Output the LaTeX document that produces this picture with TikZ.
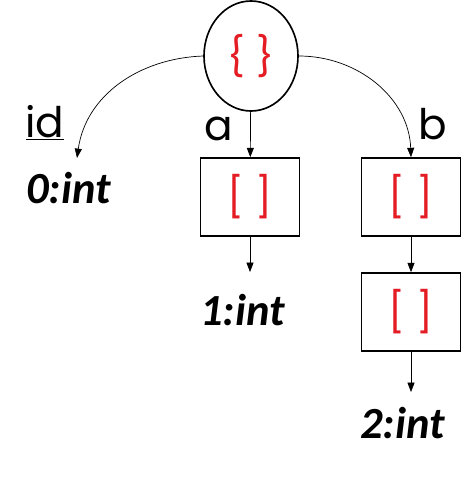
\documentclass[tikz,border=0pt]{standalone}
\usepackage{fontspec}
\usepackage{tikz}
\usetikzlibrary{arrows.meta, shapes.geometric, positioning}
\newfontfamily\labelfont{Poppins}
\newfontfamily\intfont{Carlito}
\definecolor{brkred}{RGB}{228, 28, 36}

\begin{document}
\begin{tikzpicture}[x=0.03cm, y=-0.03cm,
                    every node/.style={inner sep=0pt},
                    cell/.style={draw, line width=1.4pt, minimum width=2.97cm,
                                 minimum height=2.34cm, text=brkred,
                                 font=\labelfont\fontsize{34}{40}\selectfont},
                    lbl/.style={anchor=base, font=\labelfont\fontsize{36}{40}\selectfont},
                    val/.style={anchor=base west, font=\intfont\fontsize{38}{44}\selectfont\bfseries\itshape},
                    arr/.style={-{Triangle[length=8pt, width=6pt]}, line width=0.6pt}]
  \useasboundingbox (0,0) rectangle (474,477);

  \node[ellipse, draw, line width=1.4pt, minimum width=2.82cm, minimum height=3.3cm,
        text=brkred, font=\labelfont\fontsize{33}{38}\selectfont] (obj) at (251,56) {\{\;\}};

  \node[cell] (arrA) at (250,197) {[\;]};
  \node[cell] (arrB) at (411,197) {[\;]};
  \node[cell] (arrC) at (411,312) {[\;]};

  \node[lbl] (keyId) at (45,137) {\underline{id}};
  \node[lbl] (keyA)  at (219,140) {a};
  \node[lbl] (keyB)  at (433,139) {b};

  \node[val] (intZero) at (26,203) {0:int};
  \node[val] (intOne)  at (200,325) {1:int};
  \node[val] (intTwo)  at (360,438) {2:int};

  \coordinate (idTip)  at (77,158);
  \coordinate (oneTip) at (250,272);
  \coordinate (twoTip) at (411,392);

  \draw[arr] (obj.west) to[out=182, in=82] (idTip);
  \draw[arr] (obj) -- (arrA);
  \draw[arr] (obj.east) to[out=0, in=92] (arrB.north);
  \draw[arr] (arrB) -- (arrC);
  \draw[arr] (arrA) -- (oneTip);
  \draw[arr] (arrC) -- (twoTip);
\end{tikzpicture}
\end{document}
